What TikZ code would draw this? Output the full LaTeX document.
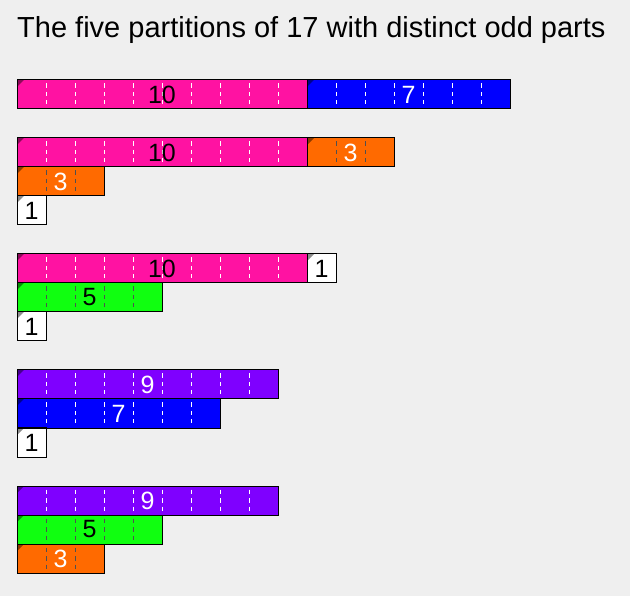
\documentclass[tikz,border=0pt]{standalone}
\usepackage{fontspec}
\setmainfont{Liberation Sans}
\usetikzlibrary{positioning}
\definecolor{rodpink}{HTML}{FF12A2}
\definecolor{rodblue}{HTML}{0000FF}
\definecolor{rodorange}{HTML}{FF6A00}
\definecolor{rodgreen}{HTML}{10FF10}
\definecolor{rodpurple}{HTML}{7F00FF}
\definecolor{rodwhite}{HTML}{FFFFFF}
\definecolor{paper}{HTML}{EFEFEF}
\definecolor{darkdash}{HTML}{505050}
\tikzset{
  rod/.style n args={4}{draw=black,line width=1pt,fill=#1,minimum width=#2*29pt,minimum height=29pt,
    inner sep=0pt,outer sep=0pt,anchor=north west,text=#4,font=\fontsize{25}{25}\selectfont,
    path picture={
      \fill[#1!55!black] (path picture bounding box.north west) -- ++(7pt,0) -- ++(-7pt,-7pt) -- cycle;
      \ifnum#2>1
      \foreach \k in {2,...,#2}
        \draw[#3,line width=1pt,dash pattern=on 4.5pt off 4pt]
          ([xshift=(\k-1)*29pt,yshift=-3.5pt]path picture bounding box.north west) -- ++(0,-21pt);
      \fi}},
  title/.style={anchor=base west,inner sep=0pt,font=\fontsize{29}{30}\selectfont},
}
\begin{document}
\begin{tikzpicture}[x=1pt,y=-1pt]
	    \fill[paper] (0,0) rectangle (630,596);
	    \useasboundingbox (0,0) rectangle (630,596);
	    \node[title] (T) at (17,37.5) {The five partitions of 17 with distinct odd parts};
	    % 10 + 7
	    \node[rod={rodpink}{10}{white}{black}] (A1) at (17,80) {10};
	    \node[rod={rodblue}{7}{white}{white},right=0pt of A1] (A2) {7};
	    % 10 + 3 + 3 + 1
	    \node[rod={rodpink}{10}{white}{black},below=29pt of A1.south west,anchor=north west] (B1) {10};
	    \node[rod={rodorange}{3}{darkdash}{white},right=0pt of B1] (B2) {3};
	    \node[rod={rodorange}{3}{darkdash}{white},below=0pt of B1.south west,anchor=north west] (B3) {3};
	    \node[rod={rodwhite}{1}{white}{black},below=0pt of B3.south west,anchor=north west] (B4) {1};
	    % 10 + 1 + 5 + 1
	    \node[rod={rodpink}{10}{white}{black},below=29pt of B4.south west,anchor=north west] (C1) {10};
	    \node[rod={rodwhite}{1}{white}{black},right=0pt of C1] (C2) {1};
	    \node[rod={rodgreen}{5}{darkdash}{black},below=0pt of C1.south west,anchor=north west] (C3) {5};
	    \node[rod={rodwhite}{1}{white}{black},below=0pt of C3.south west,anchor=north west] (C4) {1};
	    % 9 + 7 + 1
	    \node[rod={rodpurple}{9}{white}{white},below=29pt of C4.south west,anchor=north west] (D1) {9};
	    \node[rod={rodblue}{7}{white}{white},below=0pt of D1.south west,anchor=north west] (D2) {7};
	    \node[rod={rodwhite}{1}{white}{black},below=0pt of D2.south west,anchor=north west] (D3) {1};
	    % 9 + 5 + 3
	    \node[rod={rodpurple}{9}{white}{white},below=29pt of D3.south west,anchor=north west] (E1) {9};
	    \node[rod={rodgreen}{5}{darkdash}{black},below=0pt of E1.south west,anchor=north west] (E2) {5};
	    \node[rod={rodorange}{3}{darkdash}{white},below=0pt of E2.south west,anchor=north west] (E3) {3};
	\end{tikzpicture}
\end{document}
